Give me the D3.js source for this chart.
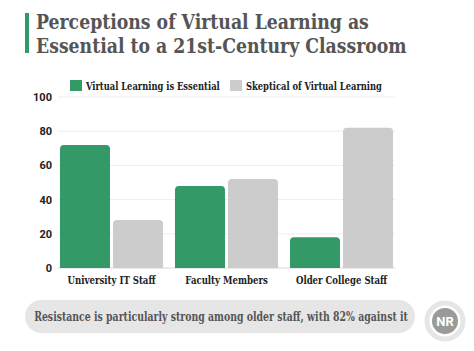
<!DOCTYPE html>
<html>
<head>
<meta charset="utf-8">
<script src="https://d3js.org/d3.v7.min.js"></script>
<style>
  body { margin: 0; background: #fff; }
  svg { display: block; }
  .slab { font-family: 'DejaVu Serif', 'Liberation Serif', serif; font-weight: bold; }
</style>
</head>
<body>
<div id="chart"></div>
<script>
  // data
  var categories = ["University IT Staff", "Faculty Members", "Older College Staff"];
  var seriesNames = ["Virtual Learning is Essential", "Skeptical of Virtual Learning"];
  var essential = [72, 48, 18];
  var skeptical = [28, 52, 82];
  var yTicks = [0, 20, 40, 60, 80, 100];
  var titleLines = ["Perceptions of Virtual Learning as", "Essential to a 21st-Century Classroom"];
  var caption = "Resistance is particularly strong among older staff, with 82% against it";

  var width = 474, height = 351;
  var colors = ["#339966", "#cccccc"];

  var svg = d3.select("#chart").append("svg")
    .attr("width", width).attr("height", height);

  // DejaVu is wider than the slab font: narrow the text horizontally around its anchor x
  function squeeze(sel, sx) {
    sel.each(function () {
      var t = d3.select(this), x = +t.attr("x");
      t.attr("x", x / sx).attr("transform", "scale(" + sx.toFixed(4) + ",1)");
    });
  }

  // title
  svg.append("rect").attr("x", 25).attr("y", 13).attr("width", 4).attr("height", 40).attr("fill", "#339966");
  var t1 = svg.append("text").attr("class", "slab").attr("x", 36).attr("y", 29)
    .attr("font-size", 21).attr("fill", "#555").text(titleLines[0]);
  var t2 = svg.append("text").attr("class", "slab").attr("x", 36).attr("y", 53)
    .attr("font-size", 21).attr("fill", "#555").text(titleLines[1]);
  var titleRatio = 371 / t2.node().getComputedTextLength();
  squeeze(t1, titleRatio);
  squeeze(t2, titleRatio);

  // scales
  var y = d3.scaleLinear().domain([0, 100]).range([268, 97]);
  var x0 = d3.scaleBand().domain(categories).range([54, 399]).paddingInner(0.104).paddingOuter(0.052);
  var x1 = d3.scaleBand().domain(seriesNames).range([0, x0.bandwidth()]).paddingInner(0.057);

  // grid
  svg.append("g").selectAll("line").data(yTicks).join("line")
    .attr("x1", 58).attr("x2", 395)
    .attr("y1", d => y(d)).attr("y2", d => y(d))
    .attr("stroke", d => d === 0 ? "#d8d8d8" : "#eeeeee").attr("stroke-width", 1);

  // y axis labels
  var yAxis = svg.append("g").attr("transform", "translate(52,0)")
    .call(d3.axisLeft(y).tickValues(yTicks).tickSize(0).tickPadding(0));
  yAxis.select(".domain").remove();
  yAxis.selectAll("text").attr("font-family", "Roboto, sans-serif").attr("font-weight", "bold")
    .attr("font-size", 11).attr("fill", "#222");

  // bars with rounded tops
  function topRounded(x, yTop, w, h, r) {
    r = Math.min(r, h, w / 2);
    return "M" + x + "," + (yTop + h) +
      "V" + (yTop + r) + "Q" + x + "," + yTop + " " + (x + r) + "," + yTop +
      "H" + (x + w - r) + "Q" + (x + w) + "," + yTop + " " + (x + w) + "," + (yTop + r) +
      "V" + (yTop + h) + "Z";
  }
  var rows = categories.map((c, i) => ({ cat: c, vals: [essential[i], skeptical[i]] }));
  var groups = svg.append("g").selectAll("g").data(rows).join("g")
    .attr("transform", d => "translate(" + x0(d.cat) + ",0)");
  groups.selectAll("path").data(d => d.vals.map((v, j) => ({ v: v, s: seriesNames[j], j: j }))).join("path")
    .attr("d", d => topRounded(x1(d.s), y(d.v), x1.bandwidth(), y(0) - y(d.v), 4))
    .attr("fill", d => colors[d.j]);

  // x labels
  var xl = svg.append("g").selectAll("text").data(categories).join("text")
    .attr("class", "slab")
    .attr("x", d => x0(d) + x0.bandwidth() / 2).attr("y", 284)
    .attr("text-anchor", "middle")
    .attr("font-size", 11.5).attr("fill", "#222").text(d => d);
  squeeze(xl, 88 / xl.nodes()[0].getComputedTextLength());

  // legend
  var legX = [70, 230];
  var leg = svg.append("g").selectAll("g").data(seriesNames).join("g")
    .attr("transform", (d, i) => "translate(" + legX[i] + ",80)");
  leg.append("rect").attr("width", 12).attr("height", 11).attr("fill", (d, i) => colors[i]);
  var legText = leg.append("text").attr("class", "slab").attr("x", 16).attr("y", 9.5)
    .attr("font-size", 10.5).attr("fill", "#222").text(d => d);
  squeeze(legText, 134 / legText.nodes()[0].getComputedTextLength());

  // caption pill
  svg.append("rect").attr("x", 25).attr("y", 300).attr("width", 390).attr("height", 33).attr("rx", 16.5)
    .attr("fill", "#e6e6e6");
  var cap = svg.append("text").attr("class", "slab").attr("x", 221).attr("y", 321.5).attr("text-anchor", "middle")
    .attr("font-size", 12).attr("fill", "#555").text(caption);
  squeeze(cap, 374 / cap.node().getComputedTextLength());

  // logo badge
  var logo = svg.append("g").attr("transform", "translate(445,321)");
  logo.append("circle").attr("r", 18).attr("fill", "none").attr("stroke", "#e6e6e6").attr("stroke-width", 5);
  logo.append("circle").attr("r", 13).attr("fill", "#9a9a9a");
  logo.append("text").attr("text-anchor", "middle").attr("y", 5).attr("font-family", "Roboto, sans-serif")
    .attr("font-weight", "bold").attr("font-size", 13).attr("fill", "#fff").text("NR");
</script>
</body>
</html>
